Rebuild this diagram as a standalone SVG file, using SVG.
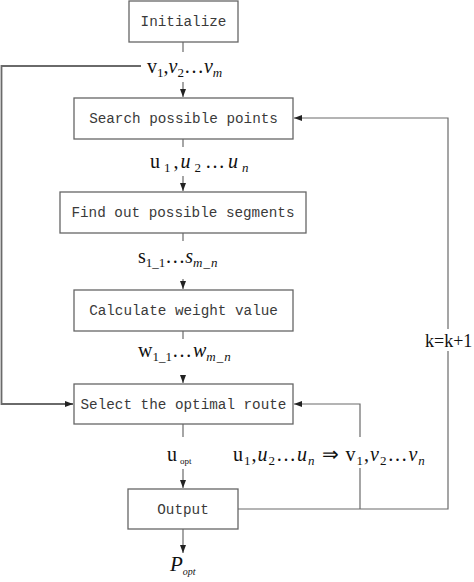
<svg xmlns="http://www.w3.org/2000/svg" width="474" height="582" viewBox="0 0 474 582">
<style>
.box{fill:#fff;stroke:#666;stroke-width:1.3}
.bt{font-family:"Liberation Mono",monospace;font-size:14.3px;fill:#3a3a3a;text-anchor:middle}
.ln{fill:none;stroke:#6a6a6a;stroke-width:1.2}
.m{font-family:"Liberation Serif",serif;font-size:20px;fill:#111}
.i{font-style:italic}
.s{font-size:13px}
</style>
<defs>
<marker id="ah" viewBox="0 0 8 8" refX="8" refY="4" markerWidth="8" markerHeight="8" markerUnits="userSpaceOnUse" orient="auto">
<path d="M0,1 L8,4 L0,7 Z" fill="#222"/>
</marker>
</defs>
<rect width="474" height="582" fill="#fff"/>
<g id="connectors">
<line class="ln" x1="183" y1="42" x2="183" y2="52"/>
<line class="ln" x1="183" y1="82" x2="183" y2="97" marker-end="url(#ah)"/>
<polyline class="ln" points="141,66 1.5,66 1.5,404 73,404" marker-end="url(#ah)" style="stroke-width:1.8"/>
<line class="ln" x1="183" y1="139" x2="183" y2="147"/>
<line class="ln" x1="183" y1="176" x2="183" y2="191" marker-end="url(#ah)"/>
<line class="ln" x1="183" y1="233" x2="183" y2="241"/>
<line class="ln" x1="183" y1="279" x2="183" y2="289" marker-end="url(#ah)"/>
<line class="ln" x1="183" y1="331" x2="183" y2="339"/>
<line class="ln" x1="183" y1="377" x2="183" y2="383" marker-end="url(#ah)"/>
<line class="ln" x1="183" y1="424" x2="183" y2="437"/>
<line class="ln" x1="183" y1="469" x2="183" y2="488" marker-end="url(#ah)"/>
<line class="ln" x1="183" y1="529" x2="183" y2="553" marker-end="url(#ah)"/>
<polyline class="ln" points="238,509 448,509 448,351"/>
<polyline class="ln" points="448,329 448,118 294,118" marker-end="url(#ah)"/>
<polyline class="ln" points="360,437 360,404 294,404" marker-end="url(#ah)"/>
<line class="ln" x1="360" y1="468" x2="360" y2="509"/>
</g>
<g id="n_init"><rect class="box" x="129" y="1" width="109" height="41"/><text class="bt" x="183.5" y="26">Initialize</text></g>
<g id="n_search"><rect class="box" x="74" y="98" width="219" height="41"/><text class="bt" x="183.5" y="123">Search possible points</text></g>
<g id="n_find"><rect class="box" x="60" y="192" width="246" height="41"/><text class="bt" x="183" y="217">Find out possible segments</text></g>
<g id="n_calc"><rect class="box" x="74" y="290" width="219" height="41"/><text class="bt" x="183.5" y="315">Calculate weight value</text></g>
<g id="n_select"><rect class="box" x="74" y="384" width="219" height="40"/><text class="bt" x="183.5" y="409">Select the optimal route</text></g>
<g id="n_output"><rect class="box" x="128" y="489" width="110" height="40"/><text class="bt" x="183" y="514">Output</text></g>
<g id="labels">
<text class="m" x="147" y="73">v<tspan class="s" dy="4">1</tspan><tspan dy="-4">,</tspan><tspan class="i">v</tspan><tspan class="s" dy="4">2</tspan><tspan dy="-4">…</tspan><tspan class="i">v</tspan><tspan class="s i" dy="4">m</tspan></text>
<text class="m" x="150" y="168">u<tspan class="s" dx="4" dy="4">1</tspan><tspan dx="3" dy="-4">,</tspan><tspan class="i" dx="2">u</tspan><tspan class="s" dx="4" dy="4">2</tspan><tspan dx="4" dy="-4">…</tspan><tspan class="i" dx="3">u</tspan><tspan class="s i" dx="4" dy="4">n</tspan></text>
<text class="m" x="138" y="263">s<tspan class="s" dy="4">1_1</tspan><tspan dy="-4">…</tspan><tspan class="i">s</tspan><tspan class="s i" dy="4">m</tspan><tspan class="s" dx="1">_</tspan><tspan class="s i" dx="1">n</tspan></text>
<text class="m" x="138" y="357">w<tspan class="s" dy="4">1_1</tspan><tspan dy="-4">…</tspan><tspan class="i" dx="1">w</tspan><tspan class="s i" dy="4">m</tspan><tspan class="s" dx="1">_</tspan><tspan class="s i" dx="1">n</tspan></text>
<text class="m" x="167" y="461">u<tspan style="font-size:9px" dx="3" dy="3">opt</tspan></text>
<text class="m" x="233" y="461">u<tspan class="s" dx="1" dy="4">1</tspan><tspan dx="1" dy="-4">,</tspan><tspan class="i" dx="1">u</tspan><tspan class="s" dx="1" dy="4">2</tspan><tspan dx="1" dy="-4">…</tspan><tspan class="i" dx="1">u</tspan><tspan class="s i" dx="1" dy="4">n</tspan><tspan dx="7" dy="-4">⇒</tspan><tspan dx="7">v</tspan><tspan class="s" dx="1" dy="4">1</tspan><tspan dx="1" dy="-4">,</tspan><tspan class="i" dx="1">v</tspan><tspan class="s" dx="1" dy="4">2</tspan><tspan dx="1" dy="-4">…</tspan><tspan class="i" dx="1">v</tspan><tspan class="s i" dx="1" dy="4">n</tspan></text>
<text class="m i" x="170" y="571" style="font-size:21px">P<tspan style="font-size:10px" dy="4">opt</tspan></text>
<text class="m" x="425" y="347" style="font-size:18px">k=k+1</text>
</g>
</svg>
